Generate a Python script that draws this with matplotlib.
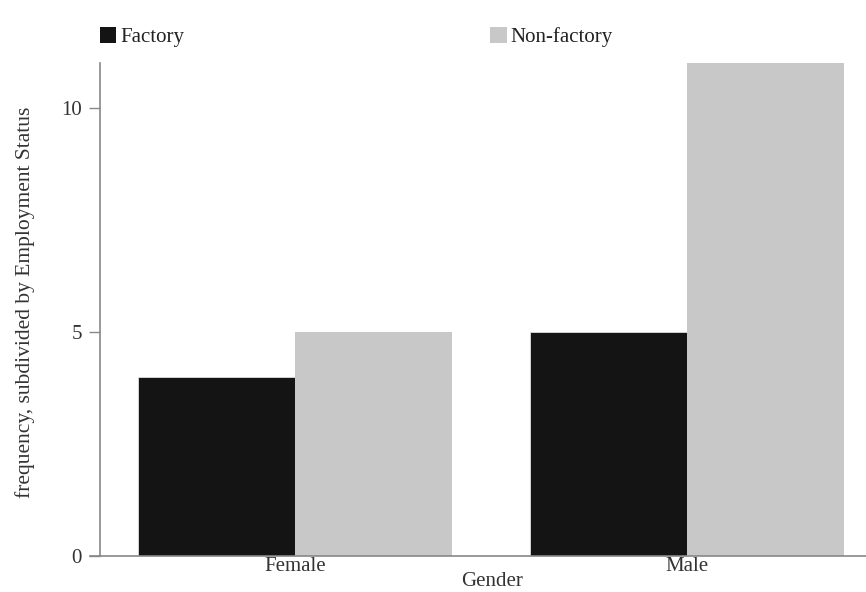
import numpy as np
import matplotlib
matplotlib.use("Agg")
import matplotlib.pyplot as plt
from matplotlib.patches import Patch
from matplotlib.lines import Line2D

genders  = ["Female", "Male"]
series   = ["Factory", "Non-factory"]
factory  = [4, 5]
nonfact  = [5, 11]
colors   = ["#141414", "#c8c8c8"]
yticks   = [0, 5, 10]

plt.rcParams["font.family"] = ["Liberation Serif", "DejaVu Serif"]
FS = 15

fig = plt.figure(figsize=(8.66, 5.92), dpi=100)
W, H = 866, 592
left, right, bottom, top = 100, 866, 556, 63
aw, ah = right - left, bottom - top
ax = fig.add_axes([left / W, 1 - bottom / H, aw / W, ah / H])

x = np.arange(len(genders))
w = 0.4
ax.bar(x - w / 2, factory, width=w, color=colors[0], edgecolor="#dddddd", linewidth=0.6)
ax.bar(x + w / 2, nonfact, width=w, color=colors[1], edgecolor="none")

ax.set_xlim(-0.4975, 1.4566)
ax.set_ylim(0, 11)

for s in ["top", "right", "bottom"]:
    ax.spines[s].set_visible(False)
ax.spines["left"].set_color("#888888")
ax.spines["left"].set_linewidth(1.2)

# bottom axis line runs a little past the y axis on the left
ax.add_line(Line2D([(90 - left) / aw, 1], [0, 0], transform=ax.transAxes,
                   color="#888888", lw=1.2, clip_on=False))

ax.set_yticks(yticks)
ax.set_yticklabels([str(t) for t in yticks], fontsize=FS, color="#333333")
ax.tick_params(axis="y", length=8, width=1.0, color="#888888", pad=5)
ax.set_xticks(x)
ax.set_xticklabels(genders, fontsize=FS, color="#333333")
ax.tick_params(axis="x", length=0, pad=1)

ax.set_xlabel("Gender", fontsize=FS, color="#333333", va="center")
ax.xaxis.set_label_coords((492 - left) / aw, -(581 - bottom) / ah)
ax.set_ylabel("frequency, subdivided by Employment Status", fontsize=15.5,
              color="#333333", va="center")
ax.yaxis.set_label_coords(-(left - 25) / aw, (bottom - 302) / ah)

handles = [Patch(facecolor=c, edgecolor="none") for c in colors]
fig.legend(handles, series, loc="upper left", bbox_to_anchor=(100 / W, 1 - 27 / H),
           ncol=2, frameon=False, fontsize=FS, handlelength=0.77, handleheight=0.77,
           handletextpad=0.2, columnspacing=14.7, borderpad=0, borderaxespad=0,
           labelcolor="#222222")

fig.savefig("out.png", dpi=100)
